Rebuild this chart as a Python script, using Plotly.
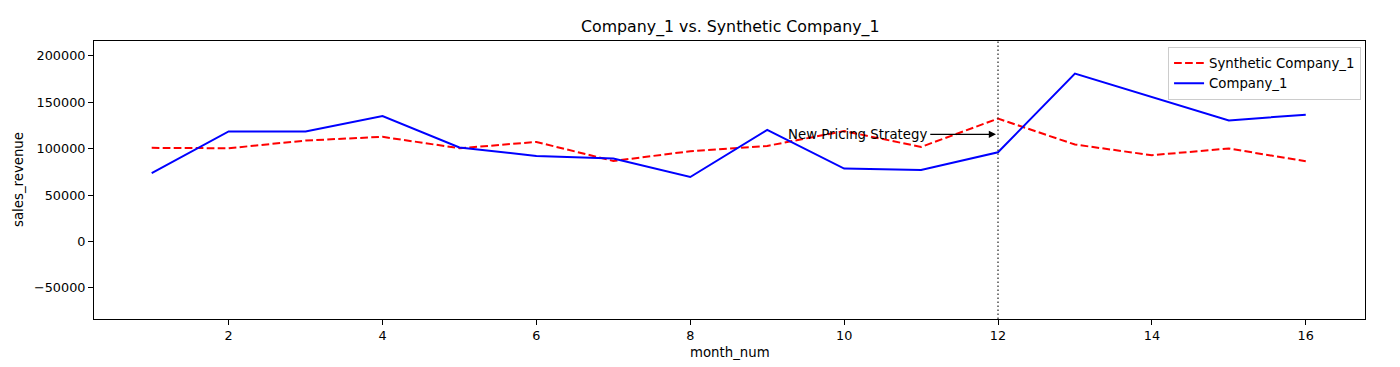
import plotly.graph_objects as go

months = list(range(1, 17))
company_1 = [73800, 118600, 118600, 135100, 101300, 92200, 89400, 69500,
             120300, 78600, 77100, 96200, 180900, 155500, 130500, 136600]
synthetic_company_1 = [100900, 100500, 108800, 112800, 100500, 107300, 86800, 97300,
                       103000, 119000, 101900, 132400, 104500, 93000, 100200, 86500]
intervention_month = 12
annotation_text = "New Pricing Strategy"
annotation_value = 115500
annotation_text_month = 9.25
arrow_tail_month = 11.1
x_ticks = [2, 4, 6, 8, 10, 12, 14, 16]
y_ticks = [-50000, 0, 50000, 100000, 150000, 200000]

FONT = "DejaVu Sans"
OFF = 8  # page body margin in the browser
W, H = 1400, 367
L, T = 94 - OFF, 41 - OFF
PW, PH = 1271, 278
R, B = W - L - PW, H - T - PH
TXT = 13.3
TICK = 12.8

fig = go.Figure()
fig.add_trace(go.Scatter(
    x=months, y=synthetic_company_1, mode="lines", name="Synthetic Company_1",
    line=dict(color="#ff0000", width=2, dash="7.7px,3.3px"),
))
fig.add_trace(go.Scatter(
    x=months, y=company_1, mode="lines", name="Company_1",
    line=dict(color="#0000ff", width=2),
))

fig.add_shape(type="line", xref="x", yref="paper", x0=intervention_month, x1=intervention_month,
              y0=0, y1=1, line=dict(color="#333333", width=1.3, dash="1.5px,2.5px"))

# arrow
fig.add_annotation(x=intervention_month, y=annotation_value, ax=arrow_tail_month, ay=annotation_value,
                   xref="x", yref="y", axref="x", ayref="y", text="", showarrow=True,
                   arrowhead=2, arrowsize=1.2, arrowwidth=1.2, arrowcolor="black", standoff=2)
fig.add_annotation(x=annotation_text_month, y=annotation_value, xref="x", yref="y",
                   text=annotation_text, showarrow=False, xanchor="left", yanchor="middle",
                   font=dict(family=FONT, size=TXT, color="black"))

# titles as paper annotations (pixel-placed, screenshot coordinates minus OFF)
fig.add_annotation(text="month_num", xref="paper", yref="paper", x=0.5,
                   y=-((352 - OFF) - (H - B)) / PH,
                   xanchor="center", yanchor="middle", showarrow=False,
                   font=dict(family=FONT, size=TXT, color="black"))
fig.add_annotation(text="sales_revenue", xref="paper", yref="paper", x=-(L - (18 - OFF)) / PW, y=0.5,
                   xanchor="center", yanchor="middle", showarrow=False, textangle=-90,
                   font=dict(family=FONT, size=TXT, color="black"))
fig.add_annotation(text="Company_1 vs. Synthetic Company_1", xref="paper", yref="paper", x=0.5,
                   y=1 + (T - (27 - OFF)) / PH, xanchor="center", yanchor="middle", showarrow=False,
                   font=dict(family=FONT, size=15.8, color="black"))

fig.update_layout(
    width=W, height=H,
    margin=dict(l=L, r=R, t=T, b=B, autoexpand=False),
    paper_bgcolor="white", plot_bgcolor="white",
    font=dict(family=FONT, size=TICK, color="black"),
    showlegend=True,
    legend=dict(x=0.9969, y=0.979, xanchor="right", yanchor="top",
                bgcolor="rgba(255,255,255,0.8)", bordercolor="#cccccc", borderwidth=1,
                font=dict(family=FONT, size=TXT, color="black"), tracegroupgap=0,
                itemwidth=30),
)
fig.update_xaxes(
    range=[0.25, 16.77], tickvals=x_ticks, ticktext=[str(v) for v in x_ticks],
    showgrid=False, zeroline=False, showline=True, linecolor="black", linewidth=1, mirror=True,
    ticks="outside", ticklen=5, tickcolor="black", automargin=False,
    tickfont=dict(family=FONT, size=TICK, color="black"),
)
fig.update_yaxes(
    range=[-83400, 216000], tickvals=y_ticks, ticktext=[str(v).replace("-", "\u2212") for v in y_ticks],
    showgrid=False, zeroline=False, showline=True, linecolor="black", linewidth=1, mirror=True,
    ticks="outside", ticklen=5, tickcolor="black", automargin=False,
    tickfont=dict(family=FONT, size=TICK, color="black"),
)

fig.write_html("out.html")
